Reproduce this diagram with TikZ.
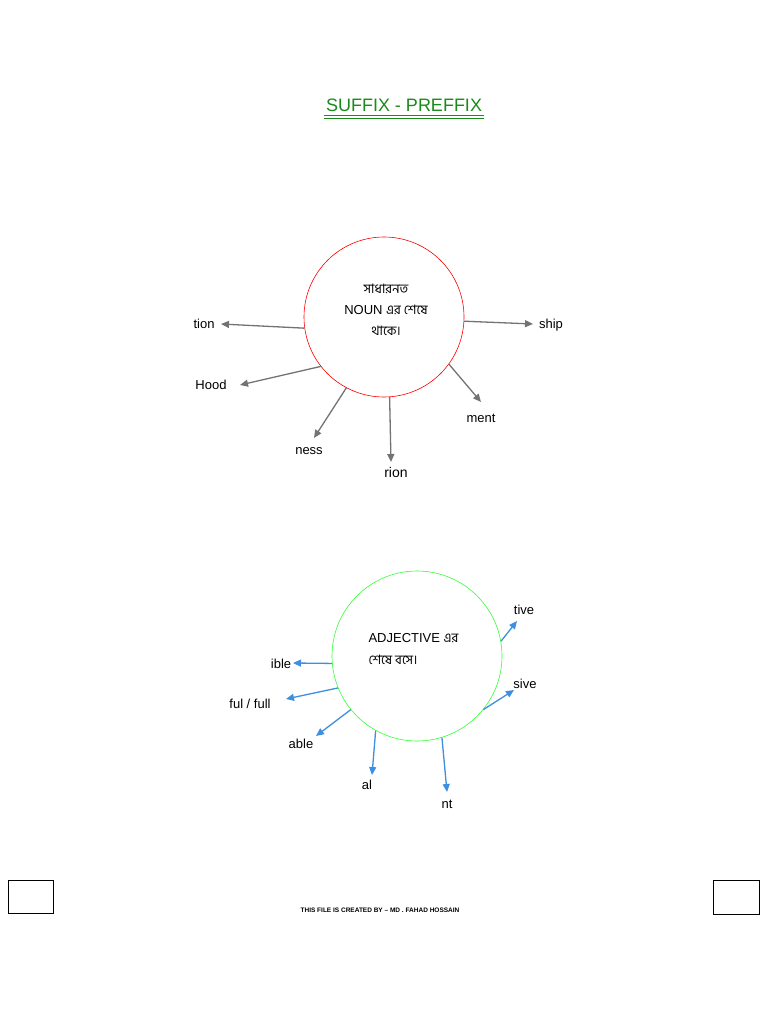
\documentclass[tikz,border=0pt]{standalone}
\usepackage{fontspec}
\setmainfont{Liberation Sans}
\newfontfamily\bn[Script=Bengali]{Hind Siliguri}
\usetikzlibrary{arrows.meta}
\definecolor{bl}{HTML}{3D8FE0}
\definecolor{gt}{HTML}{1A8A1A}
\begin{document}
\begin{tikzpicture}[x=1pt,y=-1pt,
 lbl/.style={font=\fontsize{13}{15}\selectfont,inner sep=1pt},
 garrow/.style={draw=gray!90!black,line width=1.3pt,-{Triangle[length=8pt,width=7pt]}},
 barrow/.style={draw=bl,line width=1.3pt,-{Triangle[length=8pt,width=7pt]}},
 box/.style={draw,line width=0.6pt}]
\useasboundingbox (0,0) rectangle (768,1024);
\node[text=gt,font=\fontsize{18}{21}\selectfont,inner sep=0pt] (title) at (404,105) {SUFFIX - PREFFIX};
\draw[gt,line width=0.7pt] (324,115) -- (484,115) (324,118.5) -- (484,118.5);
% circle 1
\node[draw=red,circle,minimum size=160pt,line width=0.6pt] (c1) at (384,317) {};
\node[align=center,font=\fontsize{13}{21}\selectfont] (t1) at (386,310) {{\bn সাধারনত}\\NOUN {\bn এর শেষে}\\{\bn থাকে।}};
\node[lbl] (tion) at (204,324) {tion};
\node[lbl] (hood) at (211,385) {Hood};
\node[lbl] (ness) at (309,451) {ness};
\node[lbl,font=\fontsize{14}{16}\selectfont] (rion) at (396,472) {rion};
\node[lbl] (ment) at (481,418) {ment};
\node[lbl] (ship) at (551,325) {ship};
\coordinate (e1) at (221,324); \coordinate (e2) at (240,385); \coordinate (e3) at (314,438);
\coordinate (e4) at (391,462); \coordinate (e5) at (481,402); \coordinate (e6) at (533,324);
\draw[garrow] (c1.188) -- (e1);
\draw[garrow] (c1.218) -- (e2);
\draw[garrow] (c1.242) -- (e3);
\draw[garrow] (c1.274) -- (e4);
\draw[garrow] (c1.324) -- (e5);
\draw[garrow] (c1.357) -- (e6);
% circle 2
\node[draw=green!80,circle,minimum size=170pt,line width=0.6pt] (c2) at (417,656) {};
\node[align=left,anchor=west,font=\fontsize{13}{22}\selectfont] (t2) at (365,649) {ADJECTIVE {\bn এর}\\{\bn শেষে বসে।}};
\node[lbl] (tive) at (524,610) {tive};
\node[lbl] (ible) at (281,664) {ible};
\node[lbl] (ful) at (250,704) {ful / full};
\node[lbl] (able) at (301,744) {able};
\node[lbl] (al) at (367,785) {al};
\node[lbl] (nt) at (447,804) {nt};
\node[lbl] (sive) at (525,684) {sive};
\coordinate (f1) at (517,621); \coordinate (f2) at (293,663); \coordinate (f3) at (286,699);
\coordinate (f4) at (316,736); \coordinate (f5) at (372,775); \coordinate (f6) at (447,792);
\coordinate (f7) at (514,690);
\draw[barrow] (c2.10) -- (f1);
\draw[barrow] (c2.185) -- (f2);
\draw[barrow] (c2.202) -- (f3);
\draw[barrow] (c2.219) -- (f4);
\draw[barrow] (c2.241) -- (f5);
\draw[barrow] (c2.287) -- (f6);
\draw[barrow] (c2.321) -- (f7);
% footer
\node[box,minimum width=45pt,minimum height=33pt] (b1) at (30.5,896.5) {};
\node[box,minimum width=46pt,minimum height=34pt] (b2) at (736,897) {};
\node[font=\fontsize{6.5}{7}\selectfont\bfseries] (foot) at (380,910) {THIS FILE IS CREATED BY – MD . FAHAD HOSSAIN};
\end{tikzpicture}
\end{document}
